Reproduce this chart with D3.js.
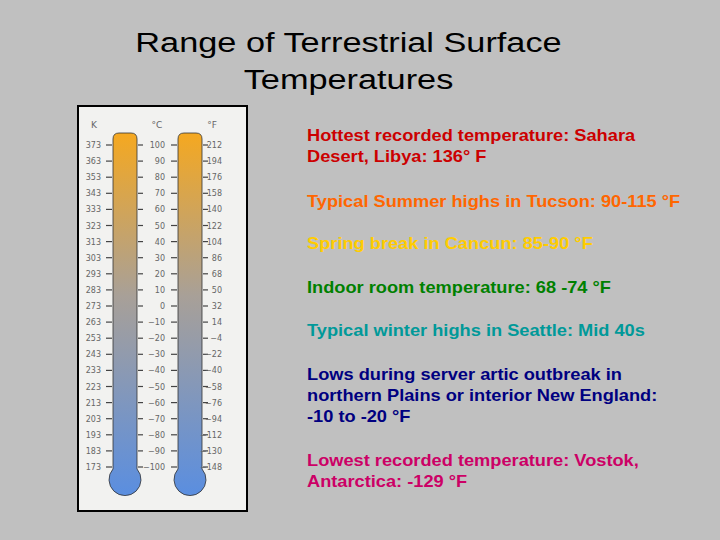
<!DOCTYPE html>
<html><head><meta charset="utf-8">
<script src="https://cdn.jsdelivr.net/npm/d3@7"></script>
<style>body{margin:0;background:#c0c0c0}</style>
</head><body><div id="chart"></div>
<script>
// Temperature scale values (Celsius ticks, with K and F equivalents)
const celsius = [100,90,80,70,60,50,40,30,20,10,0,-10,-20,-30,-40,-50,-60,-70,-80,-90,-100];
const kelvin = [373,363,353,343,333,323,313,303,293,283,273,263,253,243,233,223,213,203,193,183,173];
const fahrenheit = [212,194,176,158,140,122,104,86,68,50,32,14,-4,-22,-40,-58,-76,-94,-112,-130,-148];
const notes = [
  {lines:["Hottest recorded temperature: Sahara","Desert, Libya: 136° F"], color:"#cc0000"},
  {lines:["Typical Summer highs in Tucson: 90-115 °F"], color:"#ff6600"},
  {lines:["Spring break in Cancun: 85-90 °F"], color:"#ffcc00"},
  {lines:["Indoor room temperature: 68 -74 °F"], color:"#008000"},
  {lines:["Typical winter highs in Seattle: Mid 40s"], color:"#009999"},
  {lines:["Lows during server artic outbreak in","northern Plains or interior New England:","-10 to -20 °F"], color:"#000080"},
  {lines:["Lowest recorded temperature: Vostok,","Antarctica: -129 °F"], color:"#cc0066"}
];
const noteY = [141, 207, 249, 293, 336, 380, 466];

const svg = d3.select('#chart').append('svg').attr('width',720).attr('height',540);
svg.append('rect').attr('width',720).attr('height',540).attr('fill','#c0c0c0');

['Range of Terrestrial Surface','Temperatures'].forEach((t,i)=>
  svg.append('text').attr('transform',`translate(348.5,${52+i*37}) scale(1.27,1)`).attr('text-anchor','middle')
    .attr('font-family','Liberation Sans, Arial').attr('font-size',27).text(t));

// thermometer panel
svg.append('rect').attr('x',78).attr('y',106).attr('width',169).attr('height',405)
  .attr('fill','#f2f2f0').attr('stroke','#000').attr('stroke-width',2);

const y = d3.scaleLinear().domain([100,-100]).range([145,467]);
const defs = svg.append('defs');
const grad = defs.append('linearGradient').attr('id','g').attr('x1',0).attr('x2',0).attr('y1',0).attr('y2',1);
grad.append('stop').attr('offset','0%').attr('stop-color','#f5a820');
grad.append('stop').attr('offset','45%').attr('stop-color','#a8a098');
grad.append('stop').attr('offset','100%').attr('stop-color','#5a8ee0');

const tubes = [113, 178];
tubes.forEach(x0 => {
  const w = 24, top = 133, cx = x0 + w/2, cy = 482, r = 16;
  svg.append('path')
    .attr('d', `M${x0},${top+6} Q${x0},${top} ${x0+6},${top} L${x0+w-6},${top} Q${x0+w},${top} ${x0+w},${top+6} L${x0+w},${cy-r+3} A${r},${r} 0 1 1 ${x0},${cy-r+3} Z`)
    .attr('fill','url(#g)').attr('stroke','#333').attr('stroke-width',0.8);
  svg.selectAll(null).data(celsius).enter().append('line')
    .attr('x1', x0-7).attr('x2', x0-1).attr('y1', d=>y(d)).attr('y2', d=>y(d))
    .attr('stroke','#444').attr('stroke-width',1.2);
  svg.selectAll(null).data(celsius).enter().append('line')
    .attr('x1', x0+w+1).attr('x2', x0+w+6).attr('y1', d=>y(d)).attr('y2', d=>y(d))
    .attr('stroke','#444').attr('stroke-width',1.2);
});

const lab = (vals, x, anchor) => svg.selectAll(null).data(vals).enter().append('text')
  .attr('x', x).attr('y', (d,i)=>y(celsius[i])+3).attr('text-anchor',anchor)
  .attr('font-family','DejaVu Sans').attr('font-size',8).attr('fill','#666').text(d=>d<0?'\u2212'+(-d):d);
lab(kelvin, 101, 'end');
lab(celsius, 165, 'end');
lab(fahrenheit, 222, 'end');
[['K',94],['°C',157],['°F',212]].forEach(([t,x])=>svg.append('text').attr('x',x).attr('y',128)
  .attr('text-anchor','middle').attr('font-family','DejaVu Sans').attr('font-size',9).attr('fill','#666').text(t));

notes.forEach((n,i)=>{
  n.lines.forEach((l,j)=>svg.append('text').attr('transform',`translate(307,${noteY[i]+j*21}) scale(1.14,1)`)
    .attr('font-family','Liberation Sans, Arial').attr('font-weight','bold').attr('font-size',16)
    .attr('fill',n.color).text(l));
});
</script></body></html>
